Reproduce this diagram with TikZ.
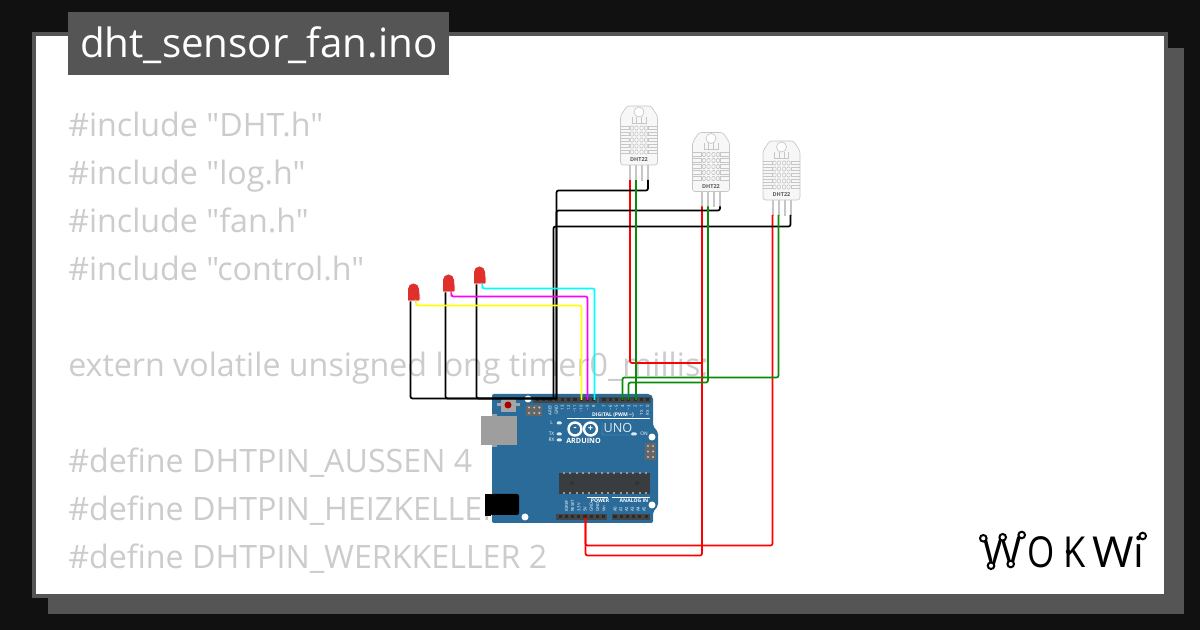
\documentclass[tikz,border=0pt]{standalone}
\usepackage{fontspec}
\setmainfont{Open Sans}
\newfontfamily\codefont{Open Sans}
\definecolor{pagedark}{HTML}{111111}
\definecolor{cardedge}{HTML}{555555}
\definecolor{codegray}{HTML}{CCCCCC}
\definecolor{boardblue}{HTML}{2B6B99}
\definecolor{headergray}{HTML}{454545}
\definecolor{pingray}{HTML}{2A2A2A}
\definecolor{chipgray}{HTML}{3A3D40}
\definecolor{sensorline}{HTML}{C6C6C6}
\definecolor{wirered}{HTML}{FF0000}
\definecolor{wiregreen}{HTML}{0A8A0A}
\definecolor{wireyellow}{HTML}{FFFF00}
\definecolor{wiremagenta}{HTML}{FF00FF}
\definecolor{wirecyan}{HTML}{00FFFF}
\definecolor{ledred}{HTML}{E0302C}
\definecolor{ledrim}{HTML}{F08A88}
\newcommand{\fsize}[1]{\fontsize{#1}{#1}\selectfont}

\begin{document}
\begin{tikzpicture}[x=0.75pt,y=-0.75pt]
	\tikzstyle{codeline}=[anchor=base west,inner sep=0pt,text=codegray,font=\codefont\fsize{24.15}]
	\tikzstyle{wire}=[line width=1.3pt,rounded corners=1.5pt]
	\tikzstyle{pinlabel}=[rotate=90,inner sep=0pt,text=white,font=\fsize{3.2}]
	\tikzstyle{boardlabel}=[inner sep=0pt,text=white,font=\fsize{3.6}]
	\tikzstyle{boardtitle}=[inner sep=0pt,text=white,font=\fsize{3.8}\bfseries]
	\tikzstyle{logoring}=[draw=black,fill=white,line width=1.5pt]
	
	% Draw page and card
	\fill[pagedark] (0,0) rectangle (1200,630);
	\fill[cardedge] (48,48) rectangle (1184,614);
	\fill[cardedge] (32,32) rectangle (1168,598);
	\fill[white] (36,36) rectangle (1164,594);
	\fill[cardedge] (68,12) rectangle (449,75);
	\node[anchor=base west,inner sep=0pt,text=white,font=\codefont\fsize{30.25}] (title) at (80,58) {dht\_sensor\_fan.ino};
	
	% Draw code lines
	\foreach \name/\y/\code in {1/137/{\#include "DHT.h"},2/185/{\#include "log.h"},3/233/{\#include "fan.h"},4/281/{\#include "control.h"},5/377/{extern volatile unsigned long timer0\_millis;},6/473/{\#define DHTPIN\_AUSSEN 4},7/521/{\#define DHTPIN\_HEIZKELLER 3},8/569/{\#define DHTPIN\_WERKKELLER 2}}
	\node[codeline] (code-\name) at (68,\y) {\code};
	
	% Draw board
	\fill[boardblue,rounded corners=1.5pt] (492,394) -- (650,394) -- (653,397) -- (653,426) -- (658,432) -- (658,506) -- (653,512) -- (653,523) -- (492,523) -- cycle;
	\foreach \name/\x/\y in {1/528/399,2/525/517,3/652/437,4/652/505}
	\fill[white] (\x,\y) circle (3.5);
	
	% Draw usb, jack and reset
	\fill[black!38] (481,416) rectangle (517,445);
	\fill[black!38] (492,414) rectangle (497,447);
	\fill[black] (485,494) rectangle (491,516);
	\fill[black,rounded corners=1.5pt] (490,494) rectangle (519,515);
	\fill[black!35] (501,398) rectangle (516,412);
	\fill[black!35] (497,403) rectangle (520,406);
	\fill[red!65!black] (508,405) circle (3.5);
	
	% Draw headers
	\fill[headergray] (533,397) rectangle (597,403);
	\fill[headergray] (599,397) rectangle (651,403);
	\fill[headergray] (556,514) rectangle (607,520);
	\fill[headergray] (612,514) rectangle (650,520);
	\foreach \k in {0,...,9}
	\fill[pingray] ({537.6+6.22*\k-1.6},398.5) rectangle ({537.6+6.22*\k+1.6},401.5);
	\foreach \k in {0,...,7}
	\fill[pingray] ({604+6.22*\k-1.6},398.5) rectangle ({604+6.22*\k+1.6},401.5);
	\foreach \k in {0,...,7}
	\fill[pingray] ({560.2+6.22*\k-1.6},515.5) rectangle ({560.2+6.22*\k+1.6},518.5);
	\foreach \k in {0,...,5}
	\fill[pingray] ({615+6.22*\k-1.6},515.5) rectangle ({615+6.22*\k+1.6},518.5);
	
	% Draw icsp blocks
	\fill[black!60] (526,405) rectangle (542,416);
	\foreach \k in {0,1,2}
	\foreach \y in {407.5,413}
	\fill[black!25] ({529+5.2*\k},\y) circle (1.2);
	\fill[black!60] (645,443) rectangle (656,460);
	\foreach \k in {0,1,2}
	\foreach \x in {648,653}
	\fill[black!25] (\x,{446+5.5*\k}) circle (1.2);
	
	% Draw chip
	\fill[chipgray] (559,473) rectangle (650,494);
	\foreach \k in {0,...,13}
	\fill[black!40] ({563+6.3*\k},472.5) rectangle ({565+6.3*\k},474.5);
	\foreach \k in {0,...,13}
	\fill[black!40] ({563+6.3*\k},492.5) rectangle ({565+6.3*\k},494.5);
	\fill[black!80] (572,483) circle (2);
	\fill[black!80] (637,483) circle (2);
	
	% Draw board logo
	\draw[white,line width=1.8pt] (575,429) circle (6.5);
	\draw[white,line width=1.8pt] (590.5,429) circle (6.5);
	\node[inner sep=0pt,text=white,font=\fsize{7}\bfseries] (logo-minus) at (575,428.5) {-};
	\node[inner sep=0pt,text=white,font=\fsize{7}\bfseries] (logo-plus) at (590.5,428.5) {+};
	\node[boardtitle,font=\fsize{5.4}\bfseries] (logo-text) at (583.5,441) {ARDUINO};
	\node[inner sep=0pt,text=white!85!boardblue,font=\fsize{9.5}] (logo-uno) at (618,427.5) {UNO};
	\draw[white!40!boardblue,line width=.3pt,rounded corners=1pt] (602,422) -- (602,435) -- (634,435);
	
	% Draw status leds
	\foreach \name/\y in {L/423,TX/434,RX/440}
	{
		\node[boardlabel] (lab-\name) at (551.5,\y) {\name};
		\fill[white!85!boardblue,rounded corners=1pt] (556.5,{\y-1.5}) rectangle (562,{\y+1.5});
	}
	\fill[white!85!boardblue,rounded corners=1pt] (631,432.5) rectangle (637,435.5);
	\node[boardlabel] (lab-ON) at (644,434) {ON};
	
	% Draw pin labels
	\foreach \lab [count=\k from 0] in {AREF,GND,13,12,\textasciitilde 11,\textasciitilde 10,\textasciitilde 9,8}
	\node[pinlabel,anchor=east] (top-\k) at ({550+6.22*\k},405) {\lab};
	\foreach \lab [count=\k from 0] in {7,\textasciitilde 6,\textasciitilde 5,4,\textasciitilde 3,2,1,0}
	\node[pinlabel,anchor=east] (right-\k) at ({604+6.22*\k},405) {\lab};
	\node[pinlabel,anchor=east] (lab-tx) at (641.5,410) {TX};
	\node[pinlabel,anchor=east] (lab-rx) at (647.7,410) {RX};
	\foreach \lab [count=\k from 0] in {IOREF,RESET,3.3V,5V,GND,GND,Vin}
	\node[pinlabel,anchor=west] (low-\k) at ({566.5+6.22*\k},512) {\lab};
	\foreach \lab [count=\k from 0] in {A0,A1,A2,A3,A4,A5}
	\node[pinlabel,anchor=west] (ana-\k) at ({615+5.8*\k},512) {\lab};
	\node[boardtitle] (lab-digital) at (613,415) {DIGITAL (PWM \textasciitilde)};
	\node[boardtitle] (lab-power) at (600,500.5) {POWER};
	\node[boardtitle] (lab-analog) at (634,500.5) {ANALOG IN};
	\draw[white,line width=.3pt] (567,418) -- (650,418);
	\draw[white,line width=.3pt] (587,497.5) -- (608,497.5);
	\draw[white,line width=.3pt] (612,497.5) -- (650,497.5);
	
	% Draw sensors
	\foreach \name/\x/\y in {1/639/106,2/711/132.5,3/781.5/141}
	{
		\begin{scope}[shift={(\x,\y)}]
			\foreach \p/\q in {1/-9,2/-3,3/3,4/9}
			{
				\draw[sensorline,line width=1.5pt] (\q,59) -- (\q,75);
				\coordinate (S\name-\p) at (\q,74);
			}
			\draw[sensorline,fill=black!3,line width=.5pt,rounded corners=2pt] (-12,0) -- (12,0) -- (18.5,10) -- (18.5,59) -- (-18.5,59) -- (-18.5,10) -- cycle;
			\draw[sensorline,fill=white,line width=.5pt] (0,6) circle (5);
			\draw[sensorline,line width=.5pt] (-7,11) -- (-7,17) -- (7,17) -- (7,11);
			\foreach \q in {-2.5,2.5}
			\draw[sensorline,line width=.5pt] (\q,11) -- (\q,17);
			\foreach \r in {22,28,34,40,46}
			{
				\draw[sensorline,line width=.5pt] (-18.5,{\r-1.7}) -- (-9.5,{\r-1.7}) -- (-9.5,{\r+1.7}) -- (-18.5,{\r+1.7});
				\draw[sensorline,line width=.5pt] (18.5,{\r-1.7}) -- (9.5,{\r-1.7}) -- (9.5,{\r+1.7}) -- (18.5,{\r+1.7});
				\foreach \q in {-7,-2.5,2.5,7}
				\draw[sensorline,line width=.5pt,rounded corners=.7pt] ({\q-1.6},{\r-2}) rectangle ({\q+1.6},{\r+2});
			}
			\node[inner sep=0pt,text=black!65,font=\fsize{4.1}\bfseries] (S\name-label) at (0,54) {DHT22};
		\end{scope}
	}
	
	% Draw leds
	\foreach \name/\x/\y in {1/413.5/292.5,2/448.5/283.5,3/479.5/275.5}
	{
		\begin{scope}[shift={(\x,\y)}]
			\draw[sensorline,line width=.8pt] (-3,8) -- (-3,11);
			\draw[sensorline,line width=.8pt] (2,8) -- (3,13);
			\fill[ledrim] (3,-3) -- (5,-3) -- (6.5,3) -- (6.5,7) -- (3,9) -- cycle;
			\fill[ledred] (-5.5,8) -- (-5.5,-3.5) arc (180:360:5.5) -- (5.5,8) -- cycle;
			\fill[ledrim] (-5.5,7.5) rectangle (5.5,9);
			\coordinate (L\name-k) at (-3,9);
			\coordinate (L\name-a) at (3,13);
		\end{scope}
	}
	
	% Name arduino pins
	\coordinate (A-gnd1) at (553.5,398.5);
	\coordinate (A-gnd2) at (556.5,398.5);
	\coordinate (A-10) at (581.5,400);
	\coordinate (A-9) at (587.5,400);
	\coordinate (A-8) at (594.5,400);
	\coordinate (A-4) at (622.5,400);
	\coordinate (A-3) at (628.5,400);
	\coordinate (A-2) at (636,400);
	\coordinate (A-5V) at (585.5,518);
	
	% Name wire bends
	\coordinate (B-s1) at (556.5,190.5);
	\coordinate (B-s2) at (556.5,210.5);
	\coordinate (B-s3) at (553.5,226.5);
	\coordinate (B-r1) at (702,363);
	\coordinate (B-r2) at (585.5,555.5);
	\coordinate (B-r3) at (585.5,545.5);
	\coordinate (B-g2) at (628.5,382.5);
	\coordinate (B-g3) at (622.5,377.5);
	\coordinate (B-yel) at (581.5,305.5);
	\coordinate (B-mag) at (587.5,296.5);
	\coordinate (B-cya) at (594.5,288.5);
	
	% Connect red wires
	\draw[wire,wirered] (S1-1) |- (B-r1);
	\draw[wire,wirered] (S2-1) |- (B-r2) -- (A-5V);
	\draw[wire,wirered] (S3-1) |- (B-r3) -- (A-5V);
	
	% Connect black wires
	\draw[wire,black] (S1-4) |- (B-s1) -- (A-gnd2);
	\draw[wire,black] (S2-4) |- (B-s2) -- (A-gnd2);
	\draw[wire,black] (S3-4) |- (B-s3) -- (A-gnd1);
	\foreach \name in {1,2,3}
	\draw[wire,black] (L\name-k) |- (A-gnd2);
	
	% Connect green wires
	\draw[wire,wiregreen] (S1-2) -- (A-2);
	\draw[wire,wiregreen] (S2-2) |- (B-g2) -- (A-3);
	\draw[wire,wiregreen] (S3-2) |- (B-g3) -- (A-4);
	
	% Connect led wires
	\draw[wire,wireyellow] (L1-a) |- (B-yel) -- (A-10);
	\draw[wire,wiremagenta] (L2-a) |- (B-mag) -- (A-9);
	\draw[wire,wirecyan] (L3-a) |- (B-cya) -- (A-8);
	
	% Draw wokwi logo
	\node[anchor=base west,inner sep=0pt,text=black,font=\codefont\fsize{32}] (logo) at (982,567.5) {W\kern4.5pt\scalebox{.82}[1]{O}\kern6pt\scalebox{.85}[1]{K}\kern5.3pt\scalebox{1.05}[1]{W}i};
	\foreach \name/\x/\y in {1/983.3/538.3,2/1002.7/537.3,3/1021.7/535,4/991/565.7,5/1010.7/564,6/1142.7/536}
	\draw[logoring] (\x,\y) circle (3.3);
	\fill[black] (1068,551.7) circle (2.2);
\end{tikzpicture}
\end{document}
